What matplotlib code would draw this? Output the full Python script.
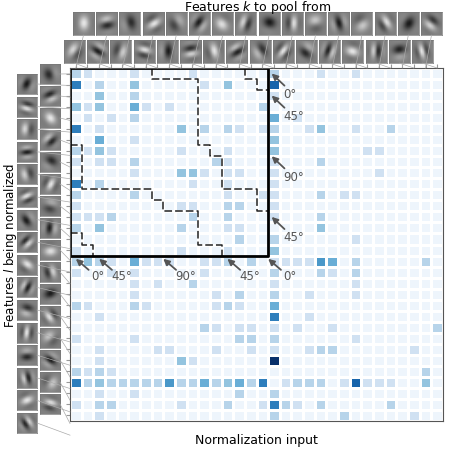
import numpy as np
import matplotlib
matplotlib.use("Agg")
import matplotlib.pyplot as plt

N = 32
base_level = 0.5
# (row, col, level 0-10)
overrides = [
(0,0,3),(0,1,2),(0,5,2),(0,10,2),(0,17,3),(0,21,2),(0,24,2),(0,7,0),(0,8,0),(0,9,0),
(1,0,7),(1,2,3),(1,5,4),(1,11,2),(1,13,4),(1,17,8),
(2,2,4),(2,5,3),(2,17,2),
(3,0,4),(3,1,2),(3,2,4),(3,5,5),(3,6,2),(3,8,2),(3,16,3),
(4,1,2),(4,3,2),(4,5,3),(4,17,5),(4,19,2),
(5,0,7),(5,2,2),(5,9,4),(5,11,3),(5,13,3),(5,14,2),(5,16,2),(5,17,3),(5,20,2),(5,21,4),(5,24,2),(5,27,3),
(6,2,5),(6,5,2),(6,17,4),
(7,0,3),(7,1,2),(7,2,4),(7,3,2),(7,9,2),(7,13,2),(7,17,4),(7,25,2),(7,26,2),
(8,0,2),(8,2,2),(8,3,2),(8,5,3),(8,12,3),(8,13,2),(8,17,2),(8,21,3),
(9,5,2),(9,9,4),(9,10,4),(9,11,2),(9,13,2),(9,14,2),(9,17,2),(9,26,2),
(10,0,7),(10,2,3),(10,10,2),(10,13,2),(10,17,2),
(11,0,3),(11,5,3),(11,13,2),(11,16,2),(11,17,2),(11,21,3),(11,23,2),(11,24,2),
(12,0,2),(12,9,2),(12,10,2),(12,13,3),(12,14,3),(12,17,2),
(13,0,2),(13,1,2),(13,2,2),(13,3,3),(13,10,3),(13,13,3),(13,17,2),(13,21,3),
(14,0,3),(14,2,4),(14,9,3),(14,13,2),(14,14,2),(14,21,4),
(15,14,3),(15,17,3),(15,24,2),
(16,0,2),(16,9,2),(16,13,2),(16,17,4),
(17,0,3),(17,1,4),(17,2,3),(17,3,2),(17,5,5),(17,6,2),(17,7,2),(17,8,2),(17,11,2),(17,12,2),(17,13,3),(17,15,3),(17,17,2),(17,18,2),(17,19,2),(17,20,2),(17,21,6),(17,22,5),(17,24,3),(17,30,3),
(18,0,2),(18,3,2),(18,5,2),(18,11,2),(18,17,3),(18,21,3),(18,22,2),(18,24,3),
(19,5,2),(19,7,2),(19,10,3),(19,17,2),(19,24,2),
(20,5,2),(20,12,2),(20,14,3),(20,17,3),(20,20,2),(20,24,2),
(21,0,3),(21,1,2),(21,5,3),(21,6,2),(21,12,2),(21,13,3),(21,14,2),(21,17,5),
(22,2,2),(22,17,7),(22,20,2),
(23,11,3),(23,12,2),(23,14,2),(23,15,2),(23,17,2),(23,19,2),(23,22,2),(23,31,3),
(24,0,2),(24,5,2),(24,14,3),(24,15,3),(24,17,3),(24,24,2),
(25,2,2),(25,7,2),(25,8,2),(25,12,2),(25,15,2),(25,17,2),(25,20,2),(25,21,3),(25,22,3),(25,29,2),
(26,2,2),(26,9,4),(26,10,2),(26,17,10),
(27,0,3),(27,1,2),(27,2,3),(27,3,2),(27,30,3),
(28,0,7),(28,1,3),(28,2,4),(28,3,3),(28,4,3),(28,5,3),(28,6,3),(28,7,3),(28,8,6),(28,9,3),(28,10,3),(28,11,5),(28,12,3),(28,13,4),(28,14,5),(28,15,3),(28,16,7),(28,18,2),(28,19,3),(28,20,3),(28,21,3),(28,23,2),(28,24,8),(28,25,2),(28,26,2),(28,27,2),(28,30,4),
(29,2,2),(29,5,2),(29,14,3),(29,17,3),
(30,0,2),(30,2,3),(30,3,3),(30,9,2),(30,13,3),(30,16,2),(30,17,7),(30,18,3),(30,19,2),(30,21,3),(30,27,3),
(31,2,2),(31,17,3),(31,23,3),(31,29,2),
]
lineA = [(15,0),(15,1),(16,1),(16,2),(17,2)]
lineB = [(7,0),(7,1),(11,1),(11,7),(12,7),(12,8),(13,8),(13,11),(16,11),(16,13),(17,13)]
lineC = [(0,7),(1,7),(1,11),(7,11),(7,12),(8,12),(8,13),(11,13),(11,16),(13,16),(13,17)]
lineD = [(0,15),(1,15),(1,16),(2,16),(2,17)]
right_labels = [("0°",1.5),("45°",3.5),("90°",9.0),("45°",14.5)]
bottom_labels = [("0°",1.5),("45°",3.5),("90°",9.0),("45°",14.5),("0°",18.0)]

M = np.full((N, N), base_level, dtype=float)
for r, c, v in overrides:
    M[r, c] = v
M = np.maximum(M, 0.25)

fig = plt.figure(figsize=(4.74, 4.53), dpi=100)
W, H = 474, 453
def fax(x0, y0, x1, y1):
    return fig.add_axes([x0/W, 1-y1/H, (x1-x0)/W, (y1-y0)/H])

ax = fax(70, 68, 443, 421)
ax.pcolormesh(np.arange(N+1), np.arange(N+1), M, cmap="Blues", vmin=0, vmax=10,
              edgecolors="white", linewidth=1.0)
ax.set_xlim(0, N); ax.set_ylim(N, 0)
ax.set_xticks(np.arange(N)+0.5); ax.set_yticks(np.arange(N)+0.5)
ax.set_xticklabels([]); ax.set_yticklabels([])
ax.tick_params(length=3, color="#999999", top=True, bottom=False, labeltop=False)
for s in ax.spines.values():
    s.set_color("#555555"); s.set_linewidth(0.8)
ax.set_xlabel("Normalization input", fontsize=9, labelpad=3)
for ln in (lineA, lineB, lineC, lineD):
    xs, ys = zip(*ln)
    ax.plot(xs, ys, color="#222222", lw=1.1, ls=(0, (5, 2)))
ax.plot([0, 17, 17, 0, 0], [0, 0, 17, 17, 0], color="black", lw=2)
ap = dict(arrowstyle="-|>", color="#555555", lw=1.3, mutation_scale=9,
          shrinkA=0, shrinkB=0)
for t, y in right_labels:
    ax.annotate("", xy=(17.3, y-1.0), xytext=(18.4, y+0.1), arrowprops=ap)
    ax.text(18.3, y+0.9, t, fontsize=8.5, color="#555555", ha="left", va="center")
for t, x in bottom_labels:
    ax.annotate("", xy=(x-1.0, 17.3), xytext=(x+0.1, 18.3), arrowprops=ap)
    ax.text(x+0.9, 18.9, t, fontsize=8.5, color="#555555", ha="center", va="center")

# decorative filter thumbnails
def thumb(a, k):
    yy, xx = np.mgrid[-1:1:12j, -1:1:12j]
    th = (k*0.7) % np.pi
    f = 2 + (k % 4)
    g = np.exp(-(xx**2+yy**2)*2.5)*np.cos(f*(xx*np.cos(th)+yy*np.sin(th)) + k)
    a.imshow(g, cmap="gray", vmin=-1.2, vmax=1.2, interpolation="bilinear", aspect="auto")
    a.set_xticks([]); a.set_yticks([])
    for s in a.spines.values():
        s.set_color("#777777"); s.set_linewidth(0.5)

cw = 373/N
sz = 21
for i in range(N):
    xc = 70 + (i+0.5)*cw
    if i % 2 == 0:
        x0 = 73 + (i//2)*23.2; y0 = 12
    else:
        x0 = 64 + (i//2)*23.2; y0 = 40
    thumb(fax(x0, y0, x0+sz, y0+sz*1.1), i)
    fig.add_artist(plt.Line2D([(x0+sz/2)/W, xc/W], [1-(y0+sz*1.1)/H, 1-68/H],
                              color="#aaaaaa", lw=0.5))
for i in range(N):
    yc = 68 + (i+0.5)*cw
    if i % 2 == 0:
        x0 = 40; y0 = 64 + (i//2)*22.0
    else:
        x0 = 17; y0 = 74 + (i//2)*22.6
    thumb(fax(x0, y0, x0+20, y0+20), i+40)
    fig.add_artist(plt.Line2D([(x0+20)/W, 70/W], [1-(y0+10)/H, 1-yc/H],
                              color="#aaaaaa", lw=0.5))

fig.text(258/W, 1-8/H, "Features $k$ to pool from", ha="center", va="center", fontsize=9)
fig.text(2/W, 1-245/H, "Features $l$ being normalized", ha="left", va="center",
         rotation=90, fontsize=8.5)
fig.savefig("out.png", dpi=100)
